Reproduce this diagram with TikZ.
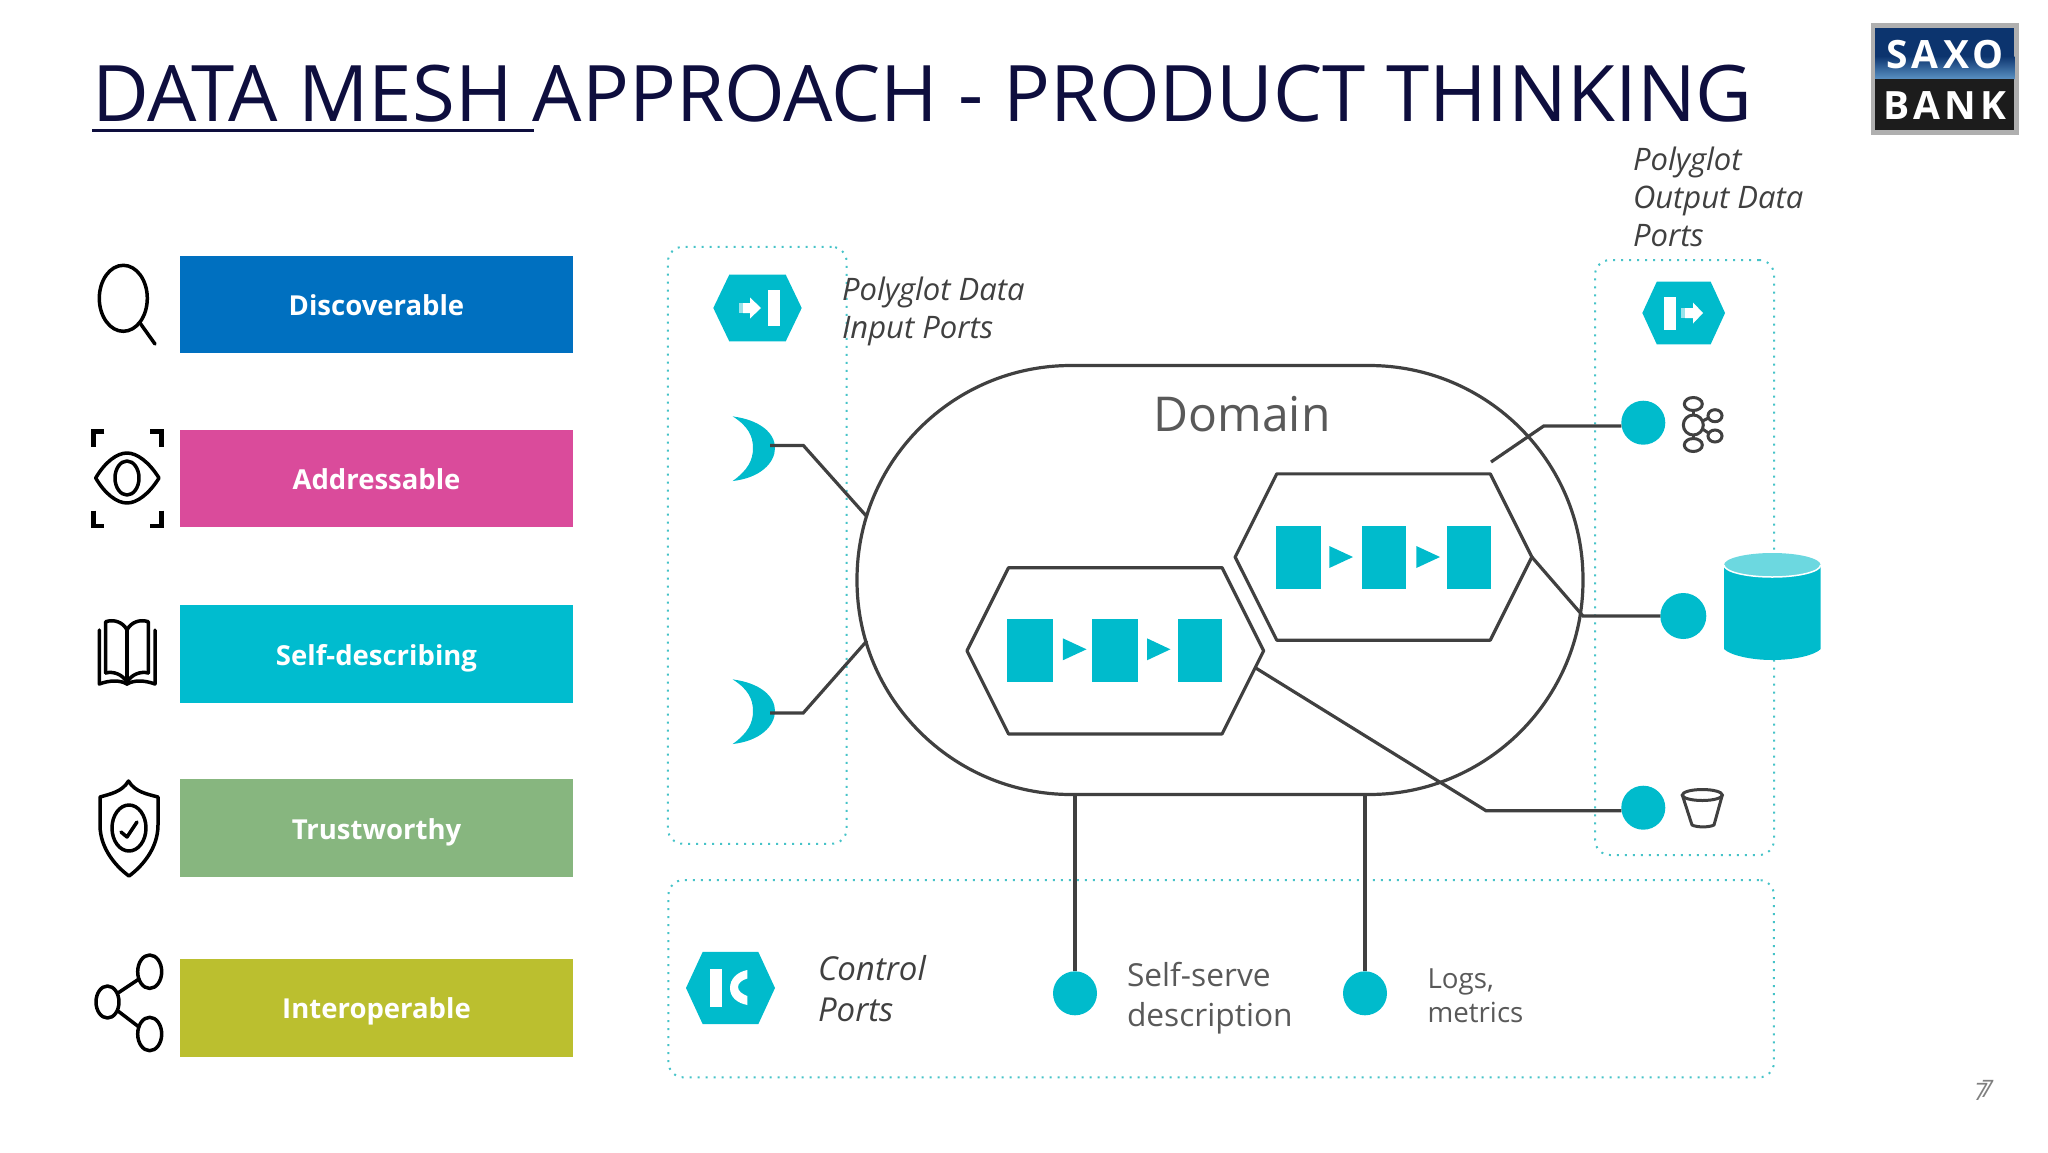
\documentclass[tikz,border=0pt]{standalone}
\usepackage{fontspec}
\usepackage{tikz}
\usepackage{xcolor}
\setmainfont{Open Sans}
\definecolor{portteal}{RGB}{0, 187, 204}
\definecolor{lightteal}{RGB}{108, 216, 224}
\definecolor{dotteal}{RGB}{70, 195, 200}
\definecolor{linegray}{RGB}{64, 64, 64}
\definecolor{textgray}{RGB}{89, 89, 89}
\definecolor{titlenavy}{RGB}{14, 14, 62}
\definecolor{barblue}{RGB}{0, 112, 192}
\definecolor{barpink}{RGB}{218, 75, 155}
\definecolor{barteal}{RGB}{0, 188, 207}
\definecolor{bargreen}{RGB}{135, 182, 127}
\definecolor{barolive}{RGB}{187, 191, 47}
\definecolor{logonavy}{RGB}{12, 52, 110}
\definecolor{logosky}{RGB}{90, 145, 195}
\definecolor{logoblack}{RGB}{28, 28, 28}
\definecolor{logogray}{RGB}{175, 175, 175}
\newcommand{\hexpath}[2]{(#1.west) -- ([xshift = #2pt]#1.north west) -- ([xshift = -#2pt]#1.north east) -- (#1.east) -- ([xshift = -#2pt]#1.south east) -- ([xshift = #2pt]#1.south west) -- cycle}
\tikzset{
  every node/.style = {outer sep = 0pt},
  bar/.style = {minimum width = 393pt, minimum height = 97.5pt, inner sep = 0pt, text = white, text height = 22pt, text depth = 0pt, font = \bfseries\fontsize{27.5}{32}\selectfont},
  icon/.style = {draw = black, line width = 3.5pt, line join = round, line cap = round},
  bracket/.style = {draw = black, line width = 4.5pt},
  dotbox/.style = {draw = dotteal, line width = 2pt, dash pattern = on 2pt off 6pt, rounded corners = 15pt, inner sep = 0pt},
  wire/.style = {draw = linegray, line width = 3.2pt},
  port/.style = {circle, fill = portteal, inner sep = 0pt, minimum size = 44pt},
  hexslot/.style = {rectangle, inner sep = 0pt},
  flowhex/.style = {draw = linegray, line width = 3.2pt, line join = round},
  flowslot/.style = {hexslot, minimum width = 296.7pt, minimum height = 166.3pt},
  flowbox/.style = {fill = portteal},
  kafka/.style = {draw = linegray, line width = 3pt},
  logotext/.style = {anchor = base, inner sep = 0pt, text = white, font = \bfseries\addfontfeature{LetterSpace = 11}\fontsize{39}{44}\selectfont},
  note/.style = {anchor = base west, align = left, inner sep = 0pt, text = linegray, font = \itshape\fontsize{31}{38}\selectfont},
  plain/.style = {anchor = base west, align = left, inner sep = 0pt, text = textgray},
  pageno/.style = {anchor = base west, inner sep = 0pt, text = gray, font = \itshape\fontsize{24}{26}\selectfont}
}

\begin{document}
\begin{tikzpicture}[x = 1pt, y = -1pt, line width = 3pt]
\useasboundingbox (0,0) rectangle (2048,1152);
\node[anchor = base west, inner sep = 0pt, text = titlenavy, font = \fontsize{78}{90}\selectfont] (title) at (92,121.5) {DATA MESH APPROACH - PRODUCT THINKING};
\draw[titlenavy, line width = 3pt] (92,130.5) -- (534,130.5);

\fill[logogray] (1870.7,23.3) rectangle (2019,135);
\fill[logonavy] (1875,28.3) rectangle (2014.3,56);
\shade[top color = logonavy, bottom color = logosky] (1875,56) rectangle (2014.3,79);
\fill[logoblack] (1875,79) rectangle (2014.3,130);
\node[logotext] (saxo) at (1945,68.3) {SAXO};
\node[logotext] (bank) at (1945,119) {BANK};

\node[bar, fill = barblue] (discoverable) at (376.5,304.7) {Discoverable};
\node[bar, fill = barpink] (addressable) at (376.5,478.7) {Addressable};
\node[bar, fill = barteal] (selfdescribing) at (376.5,654.2) {Self-describing};
\node[bar, fill = bargreen] (trustworthy) at (376.5,828) {Trustworthy};
\node[bar, fill = barolive] (interoperable) at (376.5,1007.8) {Interoperable};

\draw[icon] (123.3,298.3) ellipse (24 and 33);
\draw[icon] (140,323) -- (155,344);

\draw[icon] (95.7,478) .. controls (105,462) and (117,453) .. (127,453) .. controls (137,453) and (149,462) .. (159,478) .. controls (149,494) and (137,503) .. (127,503) .. controls (117,503) and (105,494) .. cycle;
\draw[icon] (127,478) ellipse (12 and 17);
\draw[bracket] (104.3,431.7) -- (93.3,431.7) -- (93.3,446.7);
\draw[bracket] (150,431.7) -- (161.7,431.7) -- (161.7,446.7);
\draw[bracket] (93.3,510.7) -- (93.3,526) -- (104.3,526);
\draw[bracket] (161.7,510.7) -- (161.7,526) -- (150,526);

\draw[icon] (99.3,630) -- (99.3,684) .. controls (110,680) and (120,680) .. (127,684) .. controls (134,680) and (144,680) .. (155,684) -- (155,630);
\draw[icon] (105.7,673) -- (105.7,621.7) .. controls (114,619) and (123,622) .. (127,630) .. controls (131,622) and (140,619) .. (148.3,621.7) -- (148.3,673);
\draw[icon] (105.7,673) .. controls (113,671) and (122,674) .. (127,682) .. controls (132,674) and (141,671) .. (148.3,673);
\draw[icon] (127,630) -- (127,684);

\draw[icon] (128.5,781) .. controls (122,792) and (110,794) .. (100,797) -- (100,825) .. controls (100,850) and (118,868) .. (129,876) .. controls (140,868) and (158,850) .. (158,825) -- (158,797) .. controls (147,794) and (135,792) .. cycle;
\draw[icon] (129,828) ellipse (17 and 23);
\draw[icon] (121,832) -- (127,837) -- (137,822);

\draw[icon] (107.5,1002) ellipse (11.5 and 16);
\draw[icon] (149.7,971.7) ellipse (12 and 16.7);
\draw[icon] (149.7,1034) ellipse (12 and 16.7);
\draw[icon] (118,993) -- (139,979);
\draw[icon] (118,1011) -- (139,1027);

\node[dotbox, minimum width = 178.7pt, minimum height = 597pt] (inputbox) at (757.3,545.3) {};
\node[dotbox, minimum width = 179pt, minimum height = 595pt] (outputbox) at (1684.5,557.5) {};
\node[dotbox, minimum width = 1105.5pt, minimum height = 197.3pt] (controlbox) at (1221.2,978.7) {};

\node[hexslot, minimum width = 88.4pt, minimum height = 66.8pt] (inputhex) at (757.5,308) {};
\fill[portteal] \hexpath{inputhex}{16};
\fill[white] (767.7,290) rectangle (780,326.4);
\fill[white, opacity = 0.6] (739,303) rectangle (743,313);
\fill[white] (743,303) -- (750,303) -- (750,297.5) -- (761,308) -- (750,318.5) -- (750,313) -- (743,313) -- cycle;
\node[note] (inputnote) at (842,338) {Polyglot Data\\Input Ports};

\node[hexslot, minimum width = 82.7pt, minimum height = 62.6pt] (outputhex) at (1683.7,313) {};
\fill[portteal] \hexpath{outputhex}{14.4};
\fill[white] (1664,296.7) rectangle (1676,330);
\fill[white, opacity = 0.6] (1681,308) rectangle (1685,318);
\fill[white] (1685,308) -- (1693,308) -- (1693,302.5) -- (1703,313) -- (1693,323.5) -- (1693,318) -- (1685,318) -- cycle;
\node[note] (outputnote) at (1633,246) {Polyglot\\Output Data\\Ports};

\node[hexslot, minimum width = 89pt, minimum height = 72.3pt] (controlhex) at (730.5,988) {};
\fill[portteal] \hexpath{controlhex}{16.7};
\fill[white] (710,969) rectangle (722,1007);
\fill[white] (747.3,970) .. controls (737,972) and (730,979) .. (730,988) .. controls (730,997) and (737,1003) .. (747.3,1005) -- (747.3,996) .. controls (742,994) and (738,991) .. (738,987) .. controls (738,983) and (742,980) .. (747.3,978.5) -- cycle;
\node[note, font = \itshape\fontsize{33}{41.7}\selectfont] (controlnote) at (818,1021.7) {Control\\Ports};

\node[draw = linegray, line width = 3.2pt, inner sep = 0pt, rounded corners = 214pt, minimum width = 726pt, minimum height = 429pt] (domain) at (1220,580) {};
\node[anchor = base, inner sep = 0pt, text = textgray, font = \fontsize{48}{56}\selectfont] (domainlabel) at (1242,431.5) {Domain};

\node[flowslot] (flowa) at (1115.3,650.8) {};
\node[flowslot] (flowb) at (1383.5,557) {};
\draw[flowhex] \hexpath{flowa}{41.6};
\draw[flowhex] \hexpath{flowb}{41.6};
\fill[flowbox] (1006.7,619.3) rectangle (1053,682.3);
\fill[flowbox] (1092,619.3) rectangle (1138,682.3);
\fill[flowbox] (1177.9,619.3) rectangle (1222,682.3);
\fill[flowbox] (1062.8,638.3) -- (1086.5,649.3) -- (1062.8,660.3) -- cycle;
\fill[flowbox] (1147,638.3) -- (1170.4,649.3) -- (1147,660.3) -- cycle;
\fill[flowbox] (1276.3,525.7) rectangle (1321,588.7);
\fill[flowbox] (1361.7,525.7) rectangle (1406,588.7);
\fill[flowbox] (1447,525.7) rectangle (1491.4,588.7);
\fill[flowbox] (1329.3,546) -- (1353,557) -- (1329.3,568) -- cycle;
\fill[flowbox] (1416.3,546) -- (1440,557) -- (1416.3,568) -- cycle;

\path[fill = portteal] (732.7,416.4) .. controls (760,420) and (775,433) .. (775,448) .. controls (775,463) and (760,478) .. (732.7,481) .. controls (748,470) and (753,460) .. (753,448) .. controls (753,436) and (748,426) .. cycle;
\path[fill = portteal, shift = {(0,263)}] (732.7,416.4) .. controls (760,420) and (775,433) .. (775,448) .. controls (775,463) and (760,478) .. (732.7,481) .. controls (748,470) and (753,460) .. (753,448) .. controls (753,436) and (748,426) .. cycle;
\coordinate (crescenta) at (770,445.4);
\coordinate (crescentb) at (770,712.9);
\coordinate (benda) at (803.3,445.4);
\coordinate (bendb) at (803.3,712.9);
\coordinate (domaina) at (867,516.8);
\coordinate (domainb) at (867,640.7);
\draw[wire] (crescenta) -- (benda) -- (domaina);
\draw[wire] (crescentb) -- (bendb) -- (domainb);

\node[port] (streamport) at (1643.3,422.7) {};
\node[port, minimum size = 46pt] (dbport) at (1683.3,616) {};
\node[port] (bucketport) at (1643.3,807.7) {};
\node[port] (describeport) at (1075,993.3) {};
\node[port] (logsport) at (1365,993.3) {};

\coordinate (flowbtop) at (1491,462);
\coordinate (bendtop) at (1543.7,426);
\coordinate (bendmid) at (1583,616);
\coordinate (flowaexit) at (1254.6,667.3);
\coordinate (bendlow) at (1486,810.7);
\draw[wire] (flowbtop) -- (bendtop) -- (bendtop -| streamport.west);
\draw[wire] (flowb.east) -- (bendmid) -- (dbport);
\draw[wire] (flowaexit) -- (bendlow) -- (bendlow -| bucketport.west);
\draw[wire] (domain.south -| describeport) -- (describeport);
\draw[wire] (domain.south -| logsport) -- (logsport);

\draw[kafka] (1693.3,425) ellipse (10 and 10);
\draw[kafka] (1693.3,404) ellipse (9 and 6.5);
\draw[kafka] (1693.3,445) ellipse (9 and 6.5);
\draw[kafka] (1715,415.7) ellipse (7 and 6);
\draw[kafka] (1715,436) ellipse (7 and 6);
\draw[kafka] (1693.3,410.5) -- (1693.3,415);
\draw[kafka] (1693.3,435) -- (1693.3,438.5);
\draw[kafka] (1702.5,421) -- (1708.5,418);
\draw[kafka] (1702.5,429) -- (1708.5,433);

\fill[portteal] (1724,565) -- (1724,649) .. controls (1730,655) and (1750,660) .. (1772.3,660) .. controls (1795,660) and (1815,655) .. (1820.7,649) -- (1820.7,565) -- cycle;
\fill[lightteal] (1772.3,565) ellipse (48.3 and 12);
\draw[white, line width = 1.5pt] (1724,565) arc (180:360:48.3 and -12);

\draw[kafka, line join = round] (1682.3,795) -- (1692,825) .. controls (1697,827.5) and (1709,827.5) .. (1714,825) -- (1722.3,795);
\draw[kafka] (1702.3,795) ellipse (20 and 5.5);

\node[plain, font = \fontsize{31.7}{40.6}\selectfont] (describenote) at (1127,1026.6) {Self-serve\\description};
\node[plain, font = \fontsize{27.7}{34}\selectfont] (logsnote) at (1427.6,1022.6) {Logs,\\metrics};

\node[pageno] (pagea) at (1974,1100) {7};
\node[pageno] (pageb) at (1980,1097) {7};
\end{tikzpicture}
\end{document}
